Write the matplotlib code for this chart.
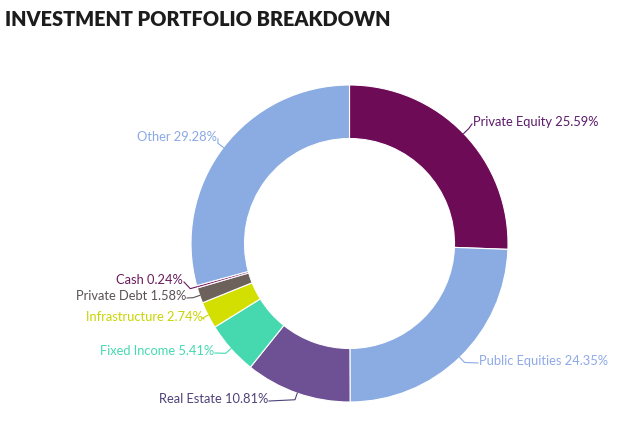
import numpy as np
import matplotlib
matplotlib.use("Agg")
import matplotlib.pyplot as plt

# data
categories = ["Private Equity", "Public Equities", "Real Estate", "Fixed Income",
              "Infrastructure", "Private Debt", "Cash", "Other"]
shares = [25.59, 24.35, 10.81, 5.41, 2.74, 1.58, 0.24, 29.28]

slice_colors = ["#6d0b57", "#8aacE2", "#6e5194", "#46d9b0",
                "#d2df00", "#6c615b", "#7b1a63", "#8aacE2"]
text_colors = ["#5c1a6a", "#8ea9e8", "#4f4278", "#46d9b0",
               "#c9d500", "#5a5252", "#6a1b5c", "#8aa8e6"]

# label anchors in pixel space (x, y from top), and alignment
label_pos = {
    "Private Equity": (473, 122, "left"),
    "Public Equities": (479, 361, "left"),
    "Real Estate": (268, 399, "right"),
    "Fixed Income": (214, 351, "right"),
    "Infrastructure": (203, 317, "right"),
    "Private Debt": (186, 296, "right"),
    "Cash": (183, 280, "right"),
    "Other": (217, 137, "right"),
}

W, H = 641, 436
cx, cy = 349.5, H - 243.5
r_out, r_in = 158.5, 105

fig = plt.figure(figsize=(W / 100, H / 100), dpi=100)
ax = fig.add_axes([0, 0, 1, 1])
ax.axis("off")

wedges, _ = ax.pie(shares, colors=slice_colors, startangle=90, counterclock=False,
                   center=(cx, cy), radius=r_out,
                   wedgeprops=dict(width=r_out - r_in, edgecolor="white", linewidth=0.8))
ax.set_xlim(0, W)
ax.set_ylim(0, H)

for w, name, val, tc in zip(wedges, categories, shares, text_colors):
    ang = np.deg2rad((w.theta1 + w.theta2) / 2)
    dx, dy = np.cos(ang), np.sin(ang)
    p0 = (cx + r_out * dx, cy + r_out * dy)
    p1 = (cx + (r_out + 7) * dx, cy + (r_out + 7) * dy)
    tx, ty, ha = label_pos[name]
    ty = H - ty
    ex = tx - 1 if ha == "left" else tx + 1
    ax.plot([p0[0], p1[0], ex], [p0[1], p1[1], ty - 2], color=tc, lw=0.8)
    ax.text(tx, ty, f"{name} {val:.2f}%", ha=ha, va="center", color=tc,
            fontsize=9.3, family="Lato")

fig.text(5 / W, 1 - 19 / H, "INVESTMENT PORTFOLIO BREAKDOWN", ha="left", va="center",
         fontsize=14.3, fontweight="heavy", family="Lato", color="#1c1c1c")

fig.savefig("out.png", dpi=100)
